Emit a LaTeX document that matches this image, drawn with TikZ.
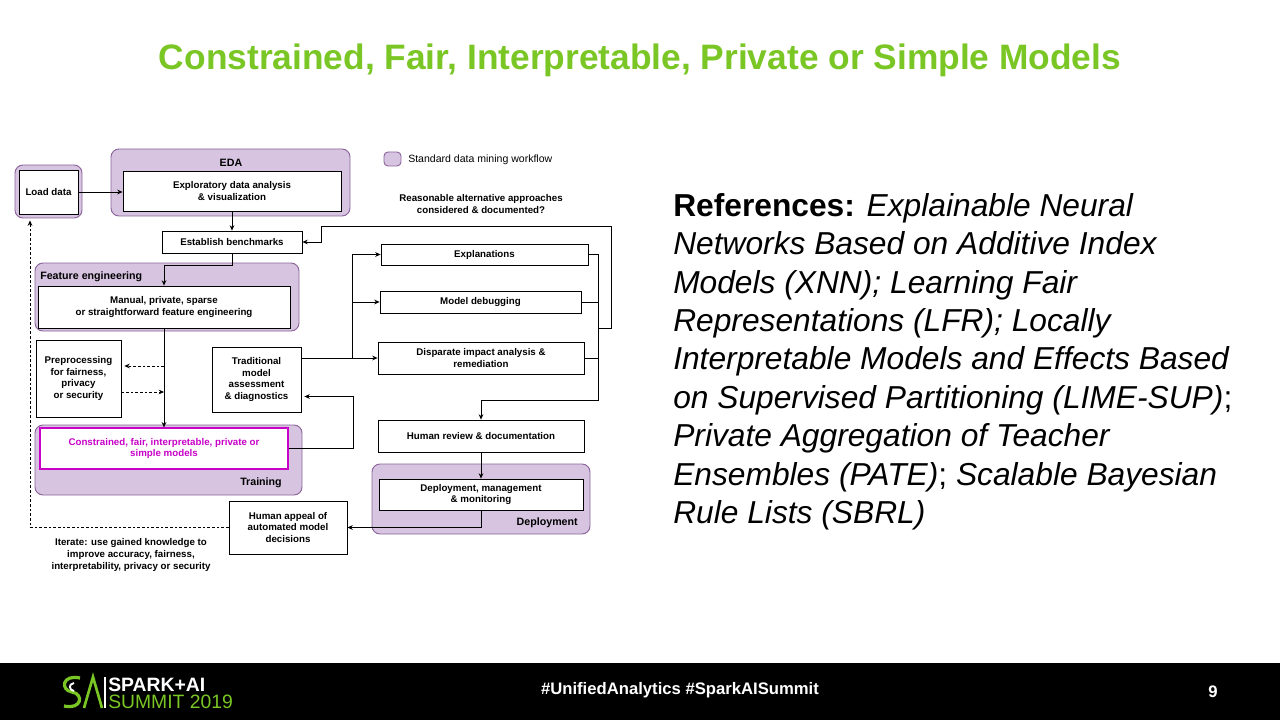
\documentclass[tikz,border=0pt]{standalone}
\usepackage{fontspec}
\setmainfont{Liberation Sans}
\usetikzlibrary{calc,arrows.meta}
\definecolor{tgreen}{RGB}{122,198,36}
\definecolor{pfill}{RGB}{214,196,224}
\definecolor{pdraw}{RGB}{140,100,155}
\definecolor{mag}{RGB}{200,0,200}
\newcommand\mybox[7]{\node[#6, minimum width={(#4-#2)*0.75pt}, minimum height={(#5-#3)*0.75pt}] (#1) at ({(#2+#4)/2},{(#3+#5)/2}) {#7};}
\begin{document}
\begin{tikzpicture}[x=0.75pt,y=-0.75pt,
  wb/.style={draw=black,fill=white,line width=0.6pt,inner sep=0pt,align=center,font=\fontsize{7.3}{8.6}\selectfont\bfseries},
  pb/.style={draw=pdraw,fill=pfill,line width=0.7pt,rounded corners=6pt,inner sep=0pt},
  lab/.style={font=\fontsize{8}{9}\selectfont\bfseries,inner sep=0pt},
  con/.style={line width=0.6pt,-{Stealth[length=4pt,width=3.5pt]}},
  ln/.style={line width=0.6pt},
  dsh/.style={line width=0.6pt,dashed,dash pattern=on 2pt off 1.5pt,-{Stealth[length=4pt,width=3.5pt]}}]
\useasboundingbox (0,0) rectangle (1280,720);
\fill[white] (0,0) rectangle (1280,720);
\node[font=\fontsize{26.5}{30}\selectfont\bfseries,text=tgreen] (title) at (640,60) {Constrained, Fair, Interpretable, Private or Simple Models};
% purple groups
\mybox{loadbg}{15}{165}{82}{218}{pb}{}
\mybox{edabg}{111}{149}{350}{216}{pb}{}
\mybox{featbg}{35}{263}{299}{331}{pb}{}
\mybox{trainbg}{35}{425}{302}{495}{pb}{}
\mybox{depbg}{372}{464}{590}{534}{pb}{}
\mybox{leg}{384}{152}{401}{166}{pb,rounded corners=3pt}{}
\node[font=\fontsize{7.9}{9}\selectfont,anchor=west,inner sep=0pt] (legt) at (408,160) {Standard data mining workflow};
\node[lab] (edal) at (231,163) {EDA};
\node[lab,anchor=west] (featl) at (40,277) {Feature engineering};
\node[lab,anchor=east] (trainl) at (282,483) {Training};
\node[lab,anchor=east] (depl) at (578,523) {Deployment};
% boxes
\mybox{load}{19}{170}{78}{214}{wb}{Load data}
\mybox{edain}{123}{171}{341}{211}{wb}{Exploratory data analysis\\ \& visualization}
\mybox{bench}{162}{231}{302}{253}{wb}{Establish benchmarks}
\mybox{featin}{38}{286}{290}{328}{wb}{Manual, private, sparse\\or straightforward feature engineering}
\mybox{pre}{36}{340}{121}{417}{wb}{Preprocessing\\for fairness,\\privacy\\or security}
\mybox{trad}{212}{347}{301}{412}{wb}{Traditional\\model\\assessment\\\& diagnostics}
\mybox{expl}{381}{244}{588}{265}{wb}{Explanations}
\mybox{md}{380}{291}{581}{313}{wb}{Model debugging}
\mybox{disp}{378}{342}{584}{374}{wb}{Disparate impact analysis \&\\remediation}
\mybox{hr}{378}{420}{584}{452}{wb}{Human review \& documentation}
\mybox{depin}{379}{479}{583}{510}{wb}{Deployment, management\\\& monitoring}
\mybox{trainin}{40}{428}{288}{469}{wb,draw=mag,text=mag,line width=0.9pt}{Constrained, fair, interpretable, private or\\simple models}
\mybox{appeal}{229}{501}{347}{554}{wb}{Human appeal of\\automated model\\decisions}
\node[font=\fontsize{7.3}{8.6}\selectfont\bfseries,align=center,inner sep=0pt] (reas) at (481,204) {Reasonable alternative approaches\\considered \& documented?};
\node[font=\fontsize{7.3}{8.9}\selectfont\bfseries,align=center,inner sep=0pt] (iter) at (131,555) {Iterate: use gained knowledge to\\improve accuracy, fairness,\\interpretability, privacy or security};
% connectors
\draw[con] (load.east) -- (load.east -| edain.west);
\draw[con] (edain.south) -- (bench.north);
\draw[con] (bench.south) -- ++(0,12) -| (featin.north);
\draw[con] (featin.south) -- (trainin.north);
\coordinate (d1) at (164,366);
\coordinate (d2) at (164,392);
\draw[dsh] (d1) -- ($(d1 -| pre.east)+(3,0)$);
\draw[dsh] (d2 -| pre.east) -- (d2);
\draw[con] (trainin.east) -- ++(65,0) |- ($(trad.east)+(3,17)$);
\coordinate (br) at (352,358);
\draw[ln] (trad.east |- br) -- (br);
\draw[ln] (br) -- (br |- expl);
\draw[con] (br |- expl) -- (expl.west);
\draw[con] (br |- md) -- (md.west);
\draw[con] (br) -- (disp.west);
\coordinate (rv) at (598,0);
\draw[con] (expl.east) -- (expl -| rv) -- (598,400) -| (hr.north);
\draw[ln] (md.east) -- (md -| rv);
\draw[ln] (disp.east) -- (disp -| rv);
\draw[con] (598,328) -- (611,328) -- (611,226) -- (321,226) |- (bench.east);
\draw[con] (hr.south) -- (depin.north);
\draw[con] (depin.south) |- (appeal.east);
\draw[dsh] (appeal.west) -| ($(loadbg.south)+(-18.5,2)$);
% references
\node[anchor=north west,align=left,inner sep=0pt,font=\fontsize{23.8}{28.8}\selectfont] (refs) at (673,193) {%
\textbf{References:} \textit{Explainable Neural}\\
\textit{Networks Based on Additive Index}\\
\textit{Models (XNN); Learning Fair}\\
\textit{Representations (LFR); Locally}\\
\textit{Interpretable Models and Effects Based}\\
\textit{on Supervised Partitioning (LIME-SUP)};\\
\textit{Private Aggregation of Teacher}\\
\textit{Ensembles (PATE)}; \textit{Scalable Bayesian}\\
\textit{Rule Lists (SBRL)}};
% footer
\fill[black] (0,663) rectangle (1280,720);
\node[text=white,font=\fontsize{12.5}{14}\selectfont\bfseries] (tags) at (680,690) {\#UnifiedAnalytics \#SparkAISummit};
\node[text=white,font=\fontsize{12.5}{14}\selectfont\bfseries] (pg) at (1213,692) {9};
\draw[tgreen,line width=2.4pt] (80,678) .. controls (62,674) and (60,690) .. (72,692) .. controls (84,694) and (82,710) .. (64,706);
\draw[white,line width=1.4pt] (74,683) .. controls (68,684) and (69,690) .. (74,691);
\draw[tgreen,line width=2pt] (84,708) -- (93,677) -- (102,708);
\draw[white,line width=1.6pt] (105,677) -- (105,708);
\node[text=white,font=\fontsize{14.5}{15}\selectfont\bfseries,anchor=west,inner sep=0pt] (sp) at (108,685) {SPARK+AI};
\node[text=tgreen,font=\fontsize{14.5}{15}\selectfont,anchor=west,inner sep=0pt] (sm) at (108,702) {SUMMIT 2019};
\end{tikzpicture}
\end{document}
